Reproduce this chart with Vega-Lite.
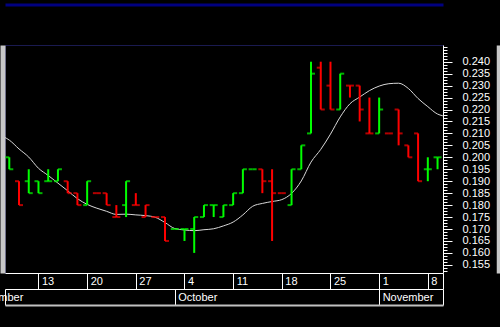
{
  "$schema": "https://vega.github.io/schema/vega-lite/v6.json",
  "width": 438,
  "height": 228,
  "autosize": {"type": "none"},
  "padding": {"left": 5, "top": 45, "right": 57, "bottom": 54},
  "background": "#000000",
  "view": {"stroke": "#1a1a50", "fill": "#000000"},
  "config": {
    "axis": {"grid": false, "title": null, "labelFont": "Liberation Sans", "labelFontSize": 11, "labelColor": "#ffffff", "labelOverlap": false, "labelFlush": false, "labelBound": false}
  },
  "data": {
    "values": [
      {"d": "2004-09-07", "i": 0, "ma": 0.2093},
      {"d": "2004-09-08", "i": 1, "o": 0.200, "h": 0.200, "l": 0.195, "c": 0.195, "ma": 0.2072, "dir": "up"},
      {"d": "2004-09-09", "i": 2, "o": 0.190, "h": 0.190, "l": 0.180, "c": 0.180, "ma": 0.2035, "dir": "down"},
      {"d": "2004-09-10", "i": 3, "o": 0.190, "h": 0.195, "l": 0.185, "c": 0.185, "ma": 0.2001, "dir": "up"},
      {"d": "2004-09-13", "i": 4, "o": 0.190, "h": 0.190, "l": 0.185, "c": 0.185, "ma": 0.1954, "dir": "up"},
      {"d": "2004-09-14", "i": 5, "o": 0.190, "h": 0.195, "l": 0.190, "c": 0.190, "ma": 0.1924, "dir": "up"},
      {"d": "2004-09-15", "i": 6, "o": 0.190, "h": 0.195, "l": 0.190, "c": 0.195, "ma": 0.1892, "dir": "up"},
      {"d": "2004-09-16", "i": 7, "o": 0.190, "h": 0.190, "l": 0.185, "c": 0.185, "ma": 0.1860, "dir": "down"},
      {"d": "2004-09-17", "i": 8, "o": 0.185, "h": 0.185, "l": 0.180, "c": 0.180, "ma": 0.1827, "dir": "down"},
      {"d": "2004-09-20", "i": 9, "o": 0.180, "h": 0.190, "l": 0.180, "c": 0.190, "ma": 0.1803, "dir": "up"},
      {"d": "2004-09-21", "i": 10, "o": 0.185, "h": 0.185, "l": 0.185, "c": 0.185, "ma": 0.1787, "dir": "down"},
      {"d": "2004-09-22", "i": 11, "o": 0.185, "h": 0.185, "l": 0.180, "c": 0.180, "ma": 0.1774, "dir": "down"},
      {"d": "2004-09-23", "i": 12, "o": 0.175, "h": 0.180, "l": 0.175, "c": 0.175, "ma": 0.1761, "dir": "down"},
      {"d": "2004-09-24", "i": 13, "o": 0.180, "h": 0.190, "l": 0.175, "c": 0.190, "ma": 0.1762, "dir": "up"},
      {"d": "2004-09-27", "i": 14, "o": 0.180, "h": 0.185, "l": 0.180, "c": 0.180, "ma": 0.1759, "dir": "down"},
      {"d": "2004-09-28", "i": 15, "o": 0.175, "h": 0.180, "l": 0.175, "c": 0.180, "ma": 0.1756, "dir": "down"},
      {"d": "2004-09-29", "i": 16, "o": 0.175, "h": 0.175, "l": 0.175, "c": 0.175, "ma": 0.1749, "dir": "down"},
      {"d": "2004-09-30", "i": 17, "o": 0.175, "h": 0.175, "l": 0.165, "c": 0.165, "ma": 0.1727, "dir": "down"},
      {"d": "2004-10-01", "i": 18, "o": 0.170, "h": 0.170, "l": 0.170, "c": 0.170, "ma": 0.1702, "dir": "up"},
      {"d": "2004-10-04", "i": 19, "o": 0.170, "h": 0.170, "l": 0.165, "c": 0.170, "ma": 0.1696, "dir": "up"},
      {"d": "2004-10-05", "i": 20, "o": 0.170, "h": 0.175, "l": 0.160, "c": 0.175, "ma": 0.1693, "dir": "up"},
      {"d": "2004-10-06", "i": 21, "o": 0.175, "h": 0.180, "l": 0.175, "c": 0.180, "ma": 0.1697, "dir": "up"},
      {"d": "2004-10-07", "i": 22, "o": 0.180, "h": 0.180, "l": 0.175, "c": 0.180, "ma": 0.1701, "dir": "up"},
      {"d": "2004-10-08", "i": 23, "o": 0.175, "h": 0.180, "l": 0.175, "c": 0.180, "ma": 0.1713, "dir": "up"},
      {"d": "2004-10-11", "i": 24, "o": 0.180, "h": 0.185, "l": 0.180, "c": 0.185, "ma": 0.1729, "dir": "up"},
      {"d": "2004-10-12", "i": 25, "o": 0.185, "h": 0.195, "l": 0.185, "c": 0.195, "ma": 0.1759, "dir": "up"},
      {"d": "2004-10-13", "i": 26, "o": 0.195, "h": 0.195, "l": 0.195, "c": 0.195, "ma": 0.1795, "dir": "up"},
      {"d": "2004-10-14", "i": 27, "o": 0.195, "h": 0.195, "l": 0.185, "c": 0.190, "ma": 0.1807, "dir": "down"},
      {"d": "2004-10-15", "i": 28, "o": 0.190, "h": 0.195, "l": 0.165, "c": 0.185, "ma": 0.1815, "dir": "down"},
      {"d": "2004-10-18", "i": 29, "o": 0.185, "h": 0.185, "l": 0.185, "c": 0.185, "ma": 0.1823, "dir": "down"},
      {"d": "2004-10-19", "i": 30, "o": 0.180, "h": 0.195, "l": 0.180, "c": 0.195, "ma": 0.1849, "dir": "up"},
      {"d": "2004-10-20", "i": 31, "o": 0.195, "h": 0.205, "l": 0.195, "c": 0.205, "ma": 0.1901, "dir": "up"},
      {"d": "2004-10-21", "i": 32, "o": 0.210, "h": 0.240, "l": 0.210, "c": 0.235, "ma": 0.1980, "dir": "up"},
      {"d": "2004-10-22", "i": 33, "o": 0.2375, "h": 0.240, "l": 0.220, "c": 0.220, "ma": 0.2033, "dir": "down"},
      {"d": "2004-10-25", "i": 34, "o": 0.230, "h": 0.240, "l": 0.220, "c": 0.220, "ma": 0.2097, "dir": "down"},
      {"d": "2004-10-26", "i": 35, "o": 0.220, "h": 0.235, "l": 0.220, "c": 0.235, "ma": 0.2169, "dir": "up"},
      {"d": "2004-10-27", "i": 36, "o": 0.230, "h": 0.230, "l": 0.225, "c": 0.230, "ma": 0.2224, "dir": "down"},
      {"d": "2004-10-28", "i": 37, "o": 0.230, "h": 0.230, "l": 0.215, "c": 0.220, "ma": 0.2252, "dir": "down"},
      {"d": "2004-10-29", "i": 38, "o": 0.210, "h": 0.225, "l": 0.210, "c": 0.210, "ma": 0.2279, "dir": "down"},
      {"d": "2004-11-01", "i": 39, "o": 0.210, "h": 0.225, "l": 0.210, "c": 0.220, "ma": 0.2298, "dir": "up"},
      {"d": "2004-11-02", "i": 40, "o": 0.210, "h": 0.210, "l": 0.210, "c": 0.210, "ma": 0.2308, "dir": "down"},
      {"d": "2004-11-03", "i": 41, "o": 0.220, "h": 0.220, "l": 0.205, "c": 0.210, "ma": 0.2310, "dir": "down"},
      {"d": "2004-11-04", "i": 42, "o": 0.205, "h": 0.205, "l": 0.200, "c": 0.200, "ma": 0.2288, "dir": "down"},
      {"d": "2004-11-05", "i": 43, "o": 0.210, "h": 0.210, "l": 0.190, "c": 0.190, "ma": 0.2246, "dir": "down"},
      {"d": "2004-11-08", "i": 44, "o": 0.195, "h": 0.200, "l": 0.190, "c": 0.195, "ma": 0.2212, "dir": "up"},
      {"d": "2004-11-09", "i": 45, "o": 0.200, "h": 0.200, "l": 0.195, "c": 0.200, "ma": 0.2181, "dir": "up"},
      {"d": "2004-11-10", "i": 46, "ma": 0.2171}
    ]
  },
  "resolve": {"axis": {"x": "independent", "y": "independent"}},
  "layer": [
    {
      "mark": {"type": "line", "color": "#d8d8d8", "strokeWidth": 1, "clip": true, "interpolate": "monotone"},
      "encoding": {
        "x": {"field": "i", "type": "quantitative", "scale": {"domain": [0.56, 45.56], "nice": false, "zero": false},
              "axis": {"orient": "top", "offset": 40.5, "domainColor": "#000080", "domainWidth": 3, "ticks": false, "labels": false}},
        "y": {"field": "ma", "type": "quantitative", "scale": {"domain": [0.15159, 0.24699], "nice": false, "zero": false}, "axis": null}
      }
    },
    {
      "transform": [{"filter": "datum.o != null"}],
      "mark": {"type": "rule", "strokeWidth": 2},
      "encoding": {
        "x": {"field": "i", "type": "quantitative",
              "axis": {"orient": "bottom", "values": [4, 9, 14, 19, 24, 29, 34, 39, 44, 45.56],
                       "labelExpr": "datum.value==4?'13':datum.value==9?'20':datum.value==14?'27':datum.value==19?'4':datum.value==24?'11':datum.value==29?'18':datum.value==34?'25':datum.value==39?'1':datum.value==44?'8':''",
                       "tickSize": 16, "tickColor": "#ffffff", "tickWidth": 1, "domainColor": "#ffffff", "domainWidth": 1,
                       "labelAlign": "left", "labelBaseline": "middle", "labelPadding": -8, "labelOffset": 3}},
        "y": {"field": "l", "type": "quantitative",
              "axis": {"orient": "right",
                       "values": [0.1525, 0.15375, 0.155, 0.15625, 0.1575, 0.15875, 0.16, 0.16125, 0.1625, 0.16375, 0.165, 0.16625, 0.1675, 0.16875, 0.17, 0.17125, 0.1725, 0.17375, 0.175, 0.17625, 0.1775, 0.17875, 0.18, 0.18125, 0.1825, 0.18375, 0.185, 0.18625, 0.1875, 0.18875, 0.19, 0.19125, 0.1925, 0.19375, 0.195, 0.19625, 0.1975, 0.19875, 0.2, 0.20125, 0.2025, 0.20375, 0.205, 0.20625, 0.2075, 0.20875, 0.21, 0.21125, 0.2125, 0.21375, 0.215, 0.21625, 0.2175, 0.21875, 0.22, 0.22125, 0.2225, 0.22375, 0.225, 0.22625, 0.2275, 0.22875, 0.23, 0.23125, 0.2325, 0.23375, 0.235, 0.23625, 0.2375, 0.23875, 0.24, 0.24125, 0.2425, 0.24375, 0.245, 0.24625],
                       "labelExpr": "(round(datum.value*800)%4==0 && datum.value<0.241) ? format(datum.value,'.3f') : ''",
                       "tickSize": {"condition": {"test": "round(datum.value*800)%4==0 && datum.value<0.241", "value": 9}, "value": 4},
                       "tickColor": "#ffffff", "tickWidth": 1, "domainColor": "#ffffff", "domainWidth": 1,
                       "labelPadding": 10, "labelAlign": "left", "labelBaseline": "middle"}},
        "y2": {"field": "h"},
        "color": {"field": "dir", "type": "nominal", "scale": {"domain": ["up", "down"], "range": ["#00ff00", "#ff0000"]}, "legend": null}
      }
    },
    {
      "transform": [{"filter": "datum.o != null"}],
      "mark": {"type": "tick", "orient": "horizontal", "size": 4, "thickness": 2, "xOffset": -2},
      "encoding": {
        "x": {"field": "i", "type": "quantitative",
              "axis": {"orient": "bottom", "offset": 16, "values": [0.56, 18, 39, 45.56],
                       "labelExpr": "datum.value<1?'September':datum.value<30?'October':datum.value<40?'November':''",
                       "tickSize": 16, "tickColor": "#ffffff", "tickWidth": 1, "domainColor": "#ffffff", "domainWidth": 1,
                       "labelAlign": "left", "labelBaseline": "middle", "labelPadding": -8,
                       "labelOffset": {"condition": {"test": "datum.value<1", "value": -36}, "value": 3}}},
        "y": {"field": "o", "type": "quantitative",
              "axis": {"orient": "left", "offset": 2.5, "domainColor": "#c8c8c8", "domainWidth": 5, "ticks": false, "labels": false}},
        "color": {"field": "dir", "type": "nominal", "legend": null}
      }
    },
    {
      "transform": [{"filter": "datum.o != null"}],
      "mark": {"type": "tick", "orient": "horizontal", "size": 4, "thickness": 2, "xOffset": 2},
      "encoding": {
        "x": {"field": "i", "type": "quantitative",
              "axis": {"orient": "bottom", "offset": 32, "ticks": false, "labels": false, "domainColor": "#c0c0c0", "domainWidth": 2}},
        "y": {"field": "c", "type": "quantitative",
              "axis": {"orient": "right", "offset": 55, "ticks": false, "labels": false, "domainColor": "#c8c8c8", "domainWidth": 3.5}},
        "color": {"field": "dir", "type": "nominal", "legend": null}
      }
    }
  ]
}
